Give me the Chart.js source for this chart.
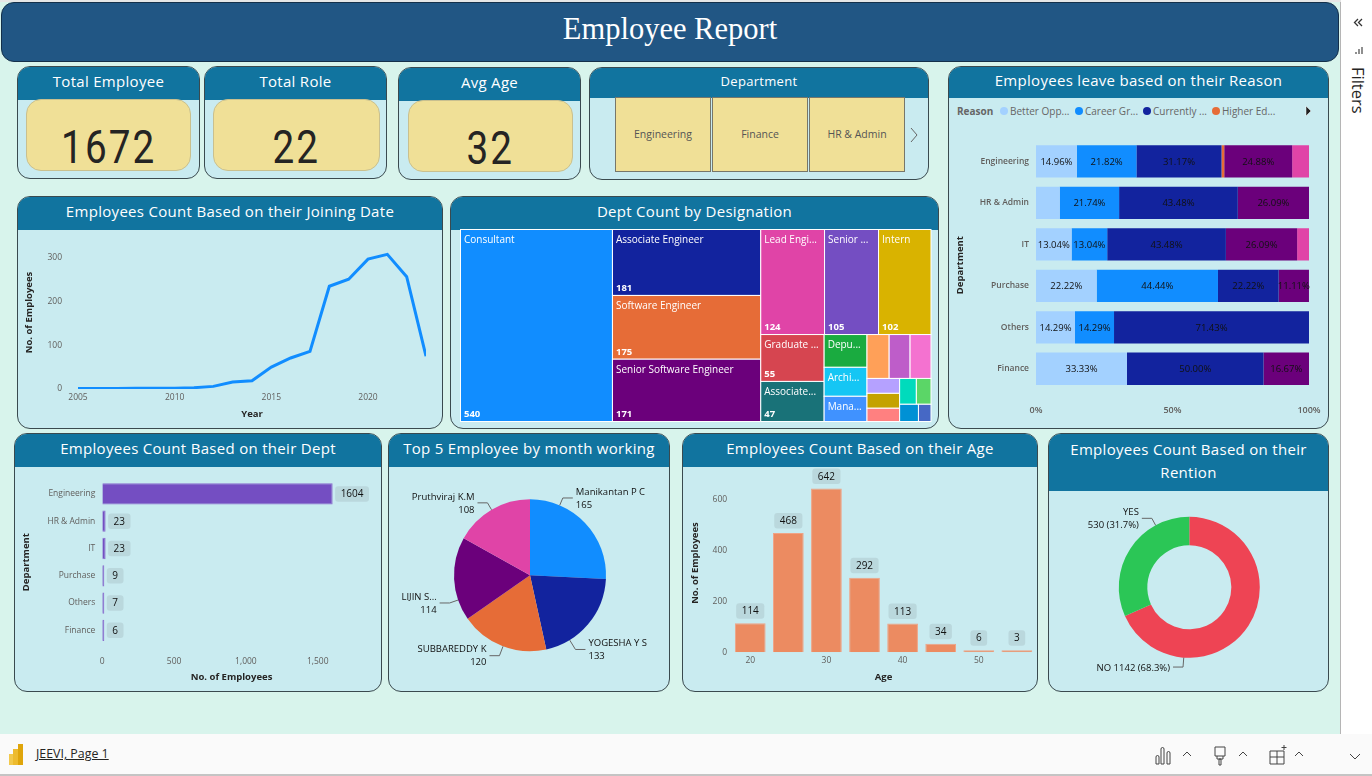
<!DOCTYPE html>
<html>
<head>
<meta charset="utf-8">
<title>Employee Report</title>
<script src="https://cdn.jsdelivr.net/npm/chart.js@4"></script>
<style>
html,body{margin:0;padding:0;width:1372px;height:776px;overflow:hidden;background:#fff;font-family:"Open Sans",sans-serif}
#page{position:absolute;left:0;top:0;width:1341px;height:734px;background:#D8F4EC;border-right:1px solid #b5b5b5;box-sizing:border-box}
#top{position:absolute;left:0;top:0;width:1341px;height:2px;background:#e6e6e6}
#title{position:absolute;left:1px;top:2px;width:1338px;height:60px;box-sizing:border-box;background:#215684;border:1px solid #14304a;border-radius:13px;color:#fff;font:30.5px "Liberation Serif",serif;text-align:center;line-height:52px}
.card{position:absolute;box-sizing:border-box;background:#C9EBF0;border:1px solid #3a4a4f;border-radius:13px;overflow:hidden}
.card .head{background:#11749F;color:#fff;text-align:center;font-size:15px;line-height:23px;padding:0 4px 4px;box-sizing:border-box;display:flex;align-items:center;justify-content:center;letter-spacing:.3px}
.kpi{position:absolute;box-sizing:border-box;background:#F0E097;border:1px solid #c9c08f;border-radius:15px;text-align:center;color:#252423;font:46px Roboto,sans-serif;letter-spacing:2.5px}
.kpi span{display:inline-block;transform:scaleX(.84)}
.slice{position:absolute;box-sizing:border-box;background:#F0E097;border:1px solid #77776a;width:96px;height:75px;top:97px;color:#555;font-size:10.5px;text-align:center;line-height:73px}
canvas{position:absolute}
.leg{position:absolute;top:104px;font-size:10px;color:#666;line-height:14px;white-space:nowrap}
.leg i{display:inline-block;width:8px;height:8px;border-radius:50%;margin-right:2px}
#foot{position:absolute;left:0;top:734px;width:1372px;height:40px;background:#FAFAFA}
#line{position:absolute;left:0;top:774px;width:1372px;height:2px;background:#c4c4c4}
#link{position:absolute;left:36px;top:745px;font-size:12.4px;color:#252423;text-decoration:underline;line-height:18px}
#filters{position:absolute;left:1349px;top:67px;writing-mode:vertical-rl;font-size:16.5px;font-weight:500;color:#252423;line-height:18px}
svg{position:absolute}
</style>
</head>
<body>
<div id="page"></div>
<div id="top"></div>
<div id="title">Employee Report</div>
<div id="cards"></div>
<div id="foot"></div>
<div id="line"></div>
<svg style="left:9px;top:744px" width="15" height="22"><rect x="0" y="10" width="6" height="11" fill="#F2C94C"/><rect x="4" y="5" width="6" height="16" fill="#EDBB2E"/><rect x="9" y="0" width="5" height="21" fill="#DFA50B"/></svg>
<div id="link">JEEVI, Page 1</div>
<div id="filters">Filters</div>
<svg style="left:1350px;top:14px" width="16" height="46" fill="none" stroke="#333" stroke-width="1.300"><path d="M8 5l-3.500 3.500 3.500 3.500M12 5l-3.500 3.500 3.500 3.500"/><path stroke="#555" d="M6 40v-2M9 40v-5M12 40v-7"/></svg>
<svg style="left:1150px;top:744px" width="215" height="24" fill="none" stroke="#444" stroke-width="1">
<path d="M6 20v-7a1.500 1.500 0 0 1 3 0v7zM11 20v-15a1.500 1.500 0 0 1 3 0v15zM17 20v-11a1.500 1.500 0 0 1 3 0v11z"/>
<path d="M33 12l4-4 4 4"/>
<path d="M65 3h10v9h-10zM67 12v3h6v-3M69 15h2v6h-2z"/>
<path d="M89 12l4-4 4 4"/>
<path d="M120 7h14v13h-14zM120 13h14M127 7v13M134 1v5M131.500 3.500h5"/>
<path d="M145 12l4-4 4 4"/>
<path d="M200 10l5 5 5-5"/>
</svg>
<script>
// numbers
const totalEmployee = 1672;
const totalRole = 22;
const avgAge = 32;

const joinYears = [2005,2006,2007,2008,2009,2010,2011,2012,2013,2014,2015,2016,2017,2018,2019,2020,2021,2022,2023];
const joinCounts = [1,1,1,2,2,2,3,6,16,19,50,71,86,235,251,297,308,257,75];
const joinYearTicks = [2005,2010,2015,2020];
const joinCountTicks = [0,100,200,300];

const slicerDepts = ['Engineering','Finance','HR & Admin'];

const leaveDepts = ['Engineering','HR & Admin','IT','Purchase','Others','Finance'];
const reasonNames = ['Better Opp...','Career Gr...','Currently ...','Higher Ed...','Reason 5','Reason 6'];
const betterOpp = [14.96,8.70,13.04,22.22,14.29,33.33];
const careerGrowth = [21.82,21.74,13.04,44.44,14.29,0];
const currently = [31.17,43.48,43.48,22.22,71.43,50.00];
const higherEd = [1.00,0,0,0,0,0];
const reason5 = [24.88,26.09,26.09,11.11,0,16.67];
const reason6 = [6.17,0,4.35,0,0,0];
const percentTicks = [0,50,100];

const roleNames = ['Consultant','Associate Engineer','Software Engineer','Senior Software Engineer','Lead Engi...','Senior ...','Intern','Graduate ...','Associate...','Depu...','Archi...','Mana...','','','','','','','','','',''];
const roleCounts = [540,181,175,171,124,105,102,55,47,26,23,20,18,17,17,9,9,8,8,7,6,4];
// how the treemap is cut: each nested list turns the cutting direction
const roleTree = [0,[1,2,3],[[4,5,6],[[7,8],[9,10,11],[[12,13,14],[[15,16,17],[[18,19],[20,21]]]]]]];

const deptNames = ['Engineering','HR & Admin','IT','Purchase','Others','Finance'];
const deptCounts = [1604,23,23,9,7,6];
const deptCountTicks = [0,500,1000,1500];

const topNames = ['Manikantan P C','YOGESHA Y S','SUBBAREDDY K','LIJIN S...','Pruthviraj K.M'];
const topMonths = [165,133,120,114,108];

const ageBins = [20,25,30,35,40,45,50,55];
const ageCounts = [114,468,642,292,113,34,6,3];
const ageCountTicks = [0,200,400,600];

const retentionNames = ['NO','YES'];
const retentionCounts = [1142,530];

// power bi theme colours
const pbi = ['#118DFF','#12239E','#E66C37','#6B007B','#E044A7','#744EC2','#D9B300','#D64550','#197278','#1AAB40','#15C6F4','#4092FF','#FFA058','#BE5DC9','#F472D0','#B5A1FF','#C4A200','#FF8080','#00DBBC','#5BD667','#0091D5','#4668C5'];
const reasonColors = ['#A3D1FF','#118DFF','#12239E','#E66C37','#6B007B','#E044A7'];

Chart.defaults.font.family = '"Open Sans", sans-serif';
Chart.defaults.animation = false;
Chart.defaults.responsive = false;
Chart.defaults.plugins.legend.display = false;
Chart.defaults.plugins.tooltip.enabled = false;

const cards = document.getElementById('cards');

function card(x, y, w, h, headH, text, size) {
  const c = document.createElement('div');
  c.className = 'card';
  c.style.cssText = `left:${x}px;top:${y}px;width:${w}px;height:${h}px`;
  const head = document.createElement('div');
  head.className = 'head';
  head.style.height = headH + 'px';
  if (size) head.style.fontSize = size + 'px';
  head.textContent = text;
  c.appendChild(head);
  cards.appendChild(c);
}

function kpi(x, y, w, h, val) {
  const k = document.createElement('div');
  k.className = 'kpi';
  k.style.cssText = `left:${x}px;top:${y}px;width:${w}px;height:${h}px;line-height:${h + 22}px`;
  const s = document.createElement('span');
  s.textContent = val;
  k.appendChild(s);
  cards.appendChild(k);
}

function canvas(box) {
  const cv = document.createElement('canvas');
  cv.width = box.w;
  cv.height = box.h;
  cv.style.left = box.x + 'px';
  cv.style.top = box.y + 'px';
  cards.appendChild(cv);
  return cv.getContext('2d');
}

// padding that puts the plot area where it is in the report
function pad(box, area, yW, xH) {
  return {
    left: area.l - box.x - yW,
    right: box.x + box.w - area.r,
    top: area.t - box.y,
    bottom: box.y + box.h - area.b - xH
  };
}

function axis(size, tickList, tickPad, title, extra, tickOpts) {
  return Object.assign({
    grid: {display: false, drawTicks: false},
    border: {display: false},
    afterFit: s => {
      if (s.isHorizontal()) s.height = size; else s.width = size;
      // tick labels must not push the plot area in
      s.paddingLeft = s.paddingRight = s.paddingTop = s.paddingBottom = 0;
    },
    afterBuildTicks: tickList ? s => { s.ticks = tickList.map(v => ({value: v})); } : undefined,
    ticks: Object.assign({color: '#605E5C', font: {size: 8.5}, padding: tickPad, maxRotation: 0, autoSkip: false}, tickOpts || {}),
    title: title ? {display: true, text: title, color: '#252423', padding: 0, font: {size: 9.5, weight: 'bold', lineHeight: 1.2}} : {display: false}
  }, extra || {});
}

// value in a small rounded box beside the bar
const pillLabels = {
  id: 'pillLabels',
  afterDatasetsDraw(chart, args, opts) {
    if (!opts.side) return;
    const g = chart.ctx;
    const vals = chart.data.datasets[0].data;
    g.save();
    g.font = '10px "Open Sans"';
    g.textAlign = 'center';
    g.textBaseline = 'middle';
    chart.getDatasetMeta(0).data.forEach((b, i) => {
      const t = String(vals[i]);
      const w = g.measureText(t).width + 11;
      const h = 15.5;
      const x = opts.side === 'right' ? b.x + 2.5 : b.x - w / 2;
      const y = opts.side === 'right' ? b.y - h / 2 : b.y - h - 4.5;
      g.fillStyle = '#BAD8DD';
      g.beginPath();
      g.roundRect(x, y, w, h, 3);
      g.fill();
      g.fillStyle = '#111';
      g.fillText(t, x + w / 2, y + h / 2 + 0.5);
    });
    g.restore();
  }
};

// percent text in the stacked bars, only where it has room
const stackLabels = {
  id: 'stackLabels',
  afterDatasetsDraw(chart, args, opts) {
    if (!opts.on) return;
    const g = chart.ctx;
    g.save();
    g.font = '9.5px "Open Sans"';
    g.fillStyle = '#111';
    g.textAlign = 'center';
    g.textBaseline = 'middle';
    chart.data.datasets.forEach((ds, d) => {
      chart.getDatasetMeta(d).data.forEach((b, i) => {
        if (ds.data[i] < 10) return;
        g.fillText(ds.data[i].toFixed(2) + '%', (b.x + b.base) / 2, b.y + 0.5);
      });
    });
    g.restore();
  }
};

// outside labels with elbow leader lines for the pie and the donut
const sliceLabels = {
  id: 'sliceLabels',
  afterDatasetsDraw(chart, args, opts) {
    if (!opts.anchors) return;
    const g = chart.ctx;
    const arc = chart.getDatasetMeta(0).data[0];
    g.save();
    g.font = '9.5px "Open Sans"';
    g.textBaseline = 'middle';
    opts.anchors.forEach((deg, i) => {
      const a = deg * Math.PI / 180;
      const sx = Math.sin(a), sy = -Math.cos(a);
      const x0 = arc.x + sx * arc.outerRadius, y0 = arc.y + sy * arc.outerRadius;
      const x1 = x0 + sx * opts.reach[i], y1 = y0 + sy * opts.reach[i];
      const dir = deg < 180 ? 1 : -1;
      const x2 = x1 + dir * 10;
      g.strokeStyle = '#666';
      g.lineWidth = 1;
      g.beginPath();
      g.moveTo(x0, y0);
      g.lineTo(x1, y1);
      g.lineTo(x2, y1);
      g.stroke();
      g.fillStyle = '#111';
      g.textAlign = dir > 0 ? 'left' : 'right';
      const lines = opts.lines(i);
      lines.forEach((t, n) => {
        const off = lines.length > 1 ? (n ? 7 : -6) : 1;
        g.fillText(t, x2 + dir * 3, y1 + off);
      });
    });
    g.restore();
  }
};

// cut the unit square by the counts, following the nested role tree
function cut(node, x, y, w, h, across, out) {
  const sum = n => Array.isArray(n) ? n.reduce((s, k) => s + sum(k), 0) : roleCounts[n];
  if (!Array.isArray(node)) {
    out[node] = {x: x, y: y, w: w, h: h};
    return;
  }
  const total = sum(node);
  let at = 0;
  node.forEach(k => {
    const part = sum(k) / total;
    if (across) cut(k, x + at * w, y, part * w, h, false, out);
    else cut(k, x, y + at * h, w, part * h, true, out);
    at += part;
  });
}

const treemapCells = {
  id: 'treemapCells',
  afterDatasetsDraw(chart, args, opts) {
    if (!opts.cells) return;
    const g = chart.ctx;
    const X = chart.scales.x, Y = chart.scales.y;
    opts.cells.forEach((c, i) => {
      const l = X.getPixelForValue(c.x), r = X.getPixelForValue(c.x + c.w);
      const t = Y.getPixelForValue(c.y), b = Y.getPixelForValue(c.y + c.h);
      g.save();
      g.fillStyle = pbi[i];
      g.fillRect(l, t, r - l, b - t);
      g.strokeStyle = '#fff';
      g.lineWidth = 1;
      g.strokeRect(l, t, r - l, b - t);
      g.beginPath();
      g.rect(l, t, r - l, b - t);
      g.clip();
      g.fillStyle = '#fff';
      g.textBaseline = 'middle';
      g.font = '10px "Open Sans"';
      if (roleNames[i]) g.fillText(roleNames[i], l + 3.5, t + 11);
      if (roleNames[i] && b - t > 38) {
        g.font = 'bold 9.5px "Open Sans"';
        g.fillText(roleCounts[i], l + 3.5, b - 7);
      }
      g.restore();
    });
  }
};

Chart.register(pillLabels, stackLabels, sliceLabels, treemapCells);

// ---- cards and kpis
card(17, 66, 183, 113, 33, 'Total Employee');
card(204, 66, 183, 113, 33, 'Total Role');
card(398, 67, 183, 113, 33, 'Avg Age');
card(589, 67, 340, 113, 30, 'Department', 13);
card(948, 66, 381, 363, 31, 'Employees leave based on their Reason');
card(17, 196, 426, 233, 33, 'Employees Count Based on their Joining Date');
card(450, 196, 489, 233, 33, 'Dept Count by Designation');
card(14, 433, 368, 259, 33, 'Employees Count Based on their Dept');
card(388, 433, 282, 259, 33, 'Top 5 Employee by month working');
card(682, 433, 356, 259, 33, 'Employees Count Based on their Age');
card(1048, 433, 281, 259, 57, 'Employees Count Based on their Rention');

kpi(26, 99, 165, 72, totalEmployee);
kpi(213, 99, 167, 72, totalRole);
kpi(408, 100, 165, 72, avgAge);

slicerDepts.forEach((d, i) => {
  const s = document.createElement('div');
  s.className = 'slice';
  s.style.left = (615 + i * 97) + 'px';
  s.textContent = d;
  cards.appendChild(s);
});
cards.insertAdjacentHTML('beforeend', '<svg style="left:908px;top:126px" width="12" height="18" fill="none" stroke="#666"><path d="M3 2l6 7-6 7"/></svg>');

// legend of the leave chart
[[957, 'Reason', -1], [1000, reasonNames[0], 0], [1075, reasonNames[1], 1], [1143, reasonNames[2], 2], [1212, reasonNames[3], 3]].forEach(l => {
  const el = document.createElement('div');
  el.className = 'leg';
  el.style.left = l[0] + 'px';
  if (l[2] < 0) {
    el.style.fontWeight = 'bold';
    el.textContent = l[1];
  } else {
    el.innerHTML = `<i style="background:${reasonColors[l[2]]}"></i>${l[1]}`;
  }
  cards.appendChild(el);
});
cards.insertAdjacentHTML('beforeend', '<svg style="left:1305px;top:105px" width="8" height="12"><path d="M1 1l5 5-5 5z" fill="#222" stroke="#fff" stroke-width="0.5"/></svg>');

// ---- joining date line
const lineBox = {x: 18, y: 230, w: 423, h: 198};
new Chart(canvas(lineBox), {
  type: 'line',
  data: {
    labels: joinYears,
    datasets: [{data: joinYears.map((y, i) => ({x: y, y: joinCounts[i]})), borderColor: '#118DFF', borderWidth: 3, pointRadius: 0, tension: 0}]
  },
  options: {
    layout: {padding: pad(lineBox, {l: 78, r: 426, t: 236, b: 389}, 54, 30.7)},
    scales: {
      x: axis(30.7, joinYearTicks, 3, 'Year', {type: 'linear', min: 2005, max: 2023}, {callback: v => String(v)}),
      y: axis(54, joinCountTicks, 16, 'No. of Employees', {min: 0, max: 350})
    }
  }
});

// ---- designation treemap
const roleCells = [];
cut(roleTree, 0, 0, 1, 1, true, roleCells);
const treeBox = {x: 451, y: 229, w: 487, h: 199};
new Chart(canvas(treeBox), {
  type: 'scatter',
  data: {
    datasets: [{
      label: 'Count',
      data: roleCells.map(c => ({x: c.x, y: c.y})),
      pointRadius: 0
    }]
  },
  options: {
    layout: {padding: {left: 9.5, right: 7, top: 0.5, bottom: 6.5}},
    plugins: {treemapCells: {cells: roleCells}},
    scales: {
      x: {display: false, min: 0, max: 1},
      y: {display: false, min: 0, max: 1, reverse: true}
    }
  }
});

// ---- leave by reason
const leaveBox = {x: 949, y: 97, w: 379, h: 331};
new Chart(canvas(leaveBox), {
  type: 'bar',
  data: {
    labels: leaveDepts,
    datasets: [betterOpp, careerGrowth, currently, higherEd, reason5, reason6].map((vals, i) => ({
      label: reasonNames[i],
      data: vals,
      backgroundColor: reasonColors[i],
      borderWidth: 0,
      barPercentage: 0.78,
      categoryPercentage: 1
    }))
  },
  options: {
    indexAxis: 'y',
    layout: {padding: pad(leaveBox, {l: 1036, r: 1309, t: 140.7, b: 389.5}, 81.3, 30.5)},
    plugins: {stackLabels: {on: true}},
    scales: {
      x: axis(30.5, percentTicks, 16, null, {stacked: true, min: 0, max: 100}, {callback: v => v + '%', font: {size: 9, weight: 600}}),
      y: axis(81.3, null, 7, 'Department', {stacked: true}, {font: {size: 8.5, weight: 600}})
    }
  }
});

// ---- count by department
const deptBox = {x: 15, y: 467, w: 366, h: 224};
new Chart(canvas(deptBox), {
  type: 'bar',
  data: {
    labels: deptNames,
    datasets: [{data: deptCounts, backgroundColor: '#744EC2', borderColor: '#8A6DCE', borderWidth: 1, minBarLength: 2, barPercentage: 0.78, categoryPercentage: 1}]
  },
  options: {
    indexAxis: 'y',
    layout: {padding: pad(deptBox, {l: 102.3, r: 360.8, t: 480.3, b: 644}, 81.6, 38.7)},
    plugins: {pillLabels: {side: 'right'}},
    scales: {
      x: axis(38.7, deptCountTicks, 12, 'No. of Employees', {min: 0, max: 1800}, {callback: v => v.toLocaleString('en-US')}),
      y: axis(81.6, null, 7, 'Department')
    }
  }
});

// ---- top 5 pie
const pieBox = {x: 389, y: 467, w: 280, h: 224};
const pieC = {x: 530, y: 575.3, r: 76};
new Chart(canvas(pieBox), {
  type: 'pie',
  data: {
    labels: topNames,
    datasets: [{data: topMonths, backgroundColor: pbi.slice(0, 5), borderWidth: 0}]
  },
  options: {
    layout: {padding: {left: pieC.x - pieC.r - pieBox.x, right: pieBox.x + pieBox.w - pieC.x - pieC.r, top: pieC.y - pieC.r - pieBox.y, bottom: pieBox.y + pieBox.h - pieC.y - pieC.r}},
    plugins: {sliceLabels: {
      anchors: [23, 148.5, 200.8, 251, 329.6],
      reach: [8, 11, 10, 9, 8],
      lines: i => [topNames[i], String(topMonths[i])]
    }}
  }
});

// ---- count by age
const ageBox = {x: 683, y: 467, w: 354, h: 224};
new Chart(canvas(ageBox), {
  type: 'bar',
  data: {
    labels: ageBins,
    datasets: [{data: ageCounts, backgroundColor: '#EC8B61', borderColor: '#F0A385', borderWidth: 1, minBarLength: 2, barPercentage: 0.807, categoryPercentage: 1}]
  },
  options: {
    layout: {padding: pad(ageBox, {l: 731.2, r: 1035.9, t: 473.8, b: 652.3}, 41.2, 30.4)},
    plugins: {pillLabels: {side: 'top'}},
    scales: {
      x: axis(30.4, null, 3.4, 'Age', {}, {callback: (v, i) => i % 2 === 0 ? ageBins[i] : ''}),
      y: axis(41.2, ageCountTicks, 4, 'No. of Employees', {min: 0, max: 700})
    }
  }
});

// ---- retention donut
const donutBox = {x: 1049, y: 491, w: 279, h: 200};
const donutC = {x: 1189.3, y: 587.3, r: 70.5};
const retentionTotal = retentionCounts[0] + retentionCounts[1];
const retentionPct = i => (retentionCounts[i] / retentionTotal * 100).toFixed(1) + '%';
new Chart(canvas(donutBox), {
  type: 'doughnut',
  data: {
    labels: retentionNames,
    datasets: [{data: retentionCounts, backgroundColor: ['#EE4454', '#2BC656'], borderWidth: 0}]
  },
  options: {
    cutout: '59.6%',
    layout: {padding: {left: donutC.x - donutC.r - donutBox.x, right: donutBox.x + donutBox.w - donutC.x - donutC.r, top: donutC.y - donutC.r - donutBox.y, bottom: donutBox.y + donutBox.h - donutC.y - donutC.r}},
    plugins: {sliceLabels: {
      anchors: [184.5, 331.5],
      reach: [9.5, 8],
      lines: i => i === 0
        ? [`${retentionNames[0]} ${retentionCounts[0]} (${retentionPct(0)})`]
        : [retentionNames[1], `${retentionCounts[1]} (${retentionPct(1)})`]
    }}
  }
});
</script>
</body>
</html>
